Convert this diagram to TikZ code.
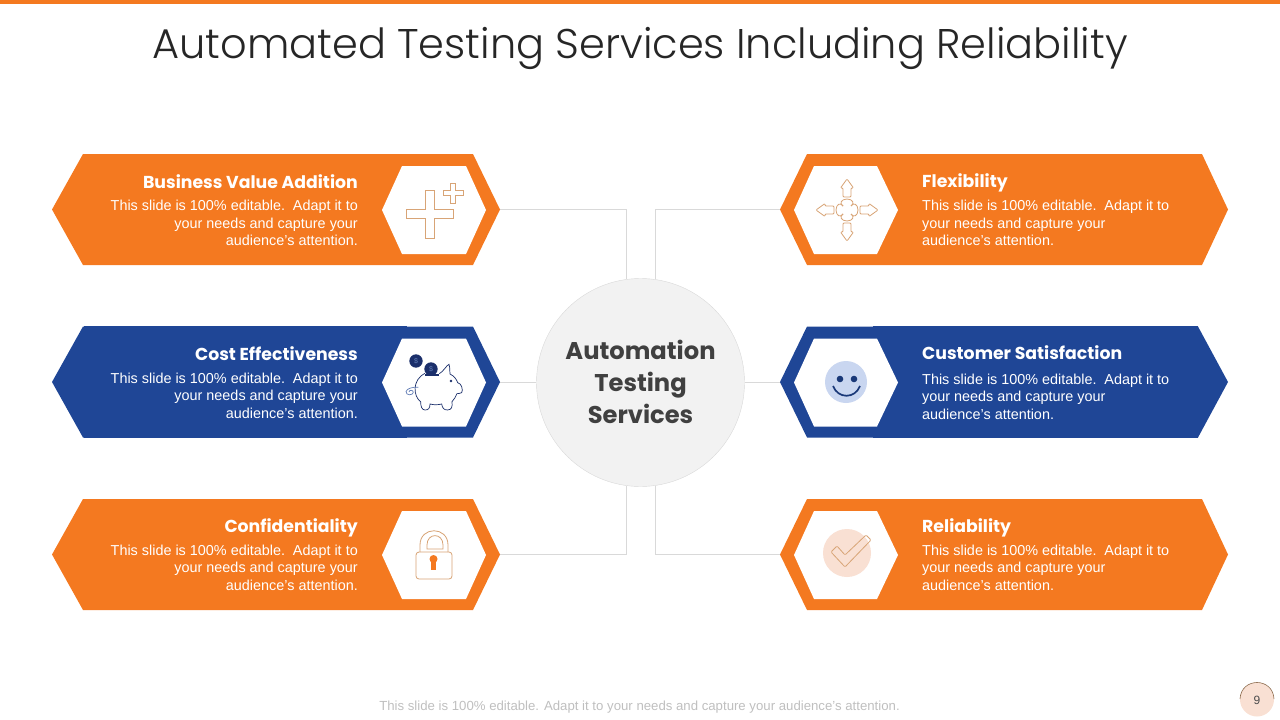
\documentclass[tikz,border=0pt]{standalone}
\usepackage{fontspec}
\setmainfont{Liberation Sans}
\newfontfamily\headfont{Poppins}
\newfontfamily\titlefont{Poppins Light}
\definecolor{barorange}{HTML}{F47920}
\definecolor{barblue}{HTML}{1F4696}
\definecolor{iconline}{HTML}{D8A476}
\definecolor{navycoin}{HTML}{1B2F6B}
\definecolor{smileface}{HTML}{C9D6F0}
\definecolor{peachdisc}{HTML}{F9E0D3}
\tikzset{
  headl/.style={anchor=base east,inner sep=0pt,text=white,font=\headfont\bfseries\fontsize{17.3}{20}\selectfont},
  headr/.style={anchor=base west,inner sep=0pt,text=white,font=\headfont\bfseries\fontsize{17.3}{20}\selectfont},
  bodyl/.style={anchor=east,inner sep=0pt,text=white,align=right,font=\fontsize{14.4}{17.6}\selectfont},
  bodyr/.style={anchor=west,inner sep=0pt,text=white,align=left,font=\fontsize{14.4}{17.6}\selectfont},
  linkline/.style={draw=black!15,line width=.8pt},
  iconpath/.style={draw=iconline,line width=.8pt},
}
\begin{document}
\begin{tikzpicture}[x=1pt,y=-1pt]
\def\lefthex{(52,209.5) -- (83,154) -- (473,154) -- (500,209.5) -- (473,265) -- (83,265) -- cycle}
\def\leftinner{(382,210) -- (402,166) -- (466,166) -- (486,210) -- (466,254) -- (402,254) -- cycle}
\def\righthex{(780,209.5) -- (807,154) -- (1202,154) -- (1228,209.5) -- (1202,265) -- (807,265) -- cycle}
\def\rightblue{(780,209.5) -- (807,154) -- (1198,154) -- (1228,209.5) -- (1198,265) -- (807,265) -- cycle}
\def\rightinner{(794,210) -- (814,166) -- (877,166) -- (898,210) -- (877,254) -- (814,254) -- cycle}
\def\slidetext{This slide is 100\% editable.\, Adapt it to\\your needs and capture your\\audience's attention.}
\useasboundingbox (0,0) rectangle (1280,720);
\fill[barorange] (0,0) rectangle (1280,4);
\node[anchor=base,inner sep=0pt,text=black!85,font=\titlefont\fontsize{41.5}{50}\selectfont] (title) at (640,58) {Automated Testing Services Including Reliability};

% hub and links
\node[circle,draw=black!15,fill=black!5,minimum size=208pt,inner sep=0pt,align=center,text=black!75,font=\headfont\bfseries\fontsize{24.2}{32}\selectfont] (hub) at (640.5,382.5) {Automation\\Testing\\Services\rule[-2pt]{0pt}{2pt}};
\coordinate (bvatip) at (499,209);
\coordinate (costtip) at (499,382.5);
\coordinate (conftip) at (499,554);
\coordinate (flextip) at (781,209);
\coordinate (custtip) at (781,382.5);
\coordinate (reltip) at (781,554);
\draw[linkline] (hub.98) |- (bvatip);
\draw[linkline] (hub.82) |- (flextip);
\draw[linkline] (hub.west) -- (costtip);
\draw[linkline] (hub.east) -- (custtip);
\draw[linkline] (hub.262) |- (conftip);
\draw[linkline] (hub.278) |- (reltip);

% left column
\fill[barorange] \lefthex;
\fill[white] \leftinner;
\begin{scope}[shift={(0,172.5)}]
\fill[barblue] \lefthex;
\fill[barblue] (84,153.5) rectangle (407,265.5);
\fill[white] \leftinner;
\end{scope}
\begin{scope}[shift={(0,345)}]
\fill[barorange] \lefthex;
\fill[white] \leftinner;
\end{scope}

% right column
\fill[barorange] \righthex;
\fill[white] \rightinner;
\begin{scope}[shift={(0,172.5)}]
\fill[barblue] \rightblue;
\fill[barblue] (873,153.5) rectangle (1198,265.5);
\fill[white] \rightinner;
\end{scope}
\begin{scope}[shift={(0,345)}]
\fill[barorange] \righthex;
\fill[white] \rightinner;
\end{scope}

% texts
\node[headl] (bvahead) at (358,188) {Business Value Addition};
\node[bodyl] (bvabody) at (358,223) {\slidetext};
\node[headl] (costhead) at (358,360) {Cost Effectiveness};
\node[bodyl] (costbody) at (358,395.5) {\slidetext};
\node[headl] (confhead) at (358,532) {Confidentiality};
\node[bodyl] (confbody) at (358,567.5) {\slidetext};
\node[headr] (flexhead) at (922,187) {Flexibility};
\node[bodyr] (flexbody) at (922,223) {\slidetext};
\node[headr] (custhead) at (922,359) {Customer Satisfaction};
\node[bodyr] (custbody) at (922,396.5) {\slidetext};
\node[headr] (relhead) at (922,532) {Reliability};
\node[bodyr] (relbody) at (922,567.5) {\slidetext};

% plus icon
\draw[iconpath] (425,190) -- (434,190) -- (434,209.5) -- (453,209.5) -- (453,218.5) -- (434,218.5) -- (434,238) -- (425,238) -- (425,218.5) -- (406,218.5) -- (406,209.5) -- (425,209.5) -- cycle;
\draw[iconpath] (450.5,183) -- (455.5,183) -- (455.5,190.5) -- (463,190.5) -- (463,195.5) -- (455.5,195.5) -- (455.5,203) -- (450.5,203) -- (450.5,195.5) -- (443,195.5) -- (443,190.5) -- (450.5,190.5) -- cycle;

% arrows icon
\foreach \ang in {0,90,180,270}{
\begin{scope}[shift={(847,210)},rotate=\ang]
\draw[iconpath] (4,-4) .. controls (6,-8) and (11,-6) .. (11,0) .. controls (11,6) and (6,8) .. (4,4);
\draw[iconpath,rounded corners=1pt] (13,-4) -- (22,-4) -- (22,-6.5) -- (31,0) -- (22,6.5) -- (22,4) -- (13,4) -- cycle;
\end{scope}
}

% piggy icon
\begin{scope}[shift={(380,330)},scale=1/3]
\fill[navycoin] (108,93) circle (20);
\fill[navycoin] (153,117) circle (20);
\node[inner sep=0pt,text=barblue!70,font=\fontsize{7}{7}\selectfont] (coinone) at (108,93) {\$};
\node[inner sep=0pt,text=barblue!70,font=\fontsize{7}{7}\selectfont] (cointwo) at (153,117) {\$};
\fill[navycoin] (135,133) rectangle (178,138);
\draw[navycoin,line width=.7pt] (178,131) .. controls (190,125) and (200,105) .. (207,103)
 .. controls (211,115) and (208,125) .. (210,132) .. controls (222,138) and (230,148) .. (233,158)
 .. controls (245,160) and (250,180) .. (245,188) .. controls (240,191) and (235,190) .. (231,191)
 .. controls (228,200) and (222,208) .. (216,215) .. controls (218,230) and (215,240) .. (202,240)
 .. controls (190,240) and (187,232) .. (185,222) .. controls (172,225) and (162,225) .. (150,222)
 .. controls (150,235) and (145,240) .. (135,240) .. controls (125,240) and (122,228) .. (122,215)
 .. controls (100,200) and (95,150) .. (135,130);
\fill[navycoin] (213,153) circle (4);
\draw[barblue!70,line width=.7pt] (115,172) .. controls (100,170) and (80,175) .. (78,185)
 .. controls (78,197) and (98,197) .. (100,187) .. controls (100,180) and (88,178) .. (87,186);
\end{scope}

% lock icon
\draw[iconpath,rounded corners=3pt] (416,552) rectangle (452,579);
\draw[iconpath] (420,552) -- (420,545) .. controls (420,526) and (448,526) .. (448,545) -- (448,552);
\draw[iconpath] (427,549) -- (427,545) .. controls (427,532.5) and (443,532.5) .. (443,545) -- (443,549) -- cycle;
\fill[barorange] (433.5,559) circle (4);
\fill[barorange] (431,560) rectangle (436,570);

% smiley icon
\fill[smileface] (846,382) circle (21);
\fill[barblue!80!black] (840,379) circle (3.3);
\fill[barblue!80!black] (854,379) circle (3.3);
\draw[barblue!80!black,line width=1.7pt] (833,386) .. controls (838,399) and (855,399) .. (860,386);

% check icon
\fill[peachdisc] (847,553) circle (24);
\draw[iconpath,rounded corners=1pt] (831,552) -- (837,546) -- (845,555) -- (866,535) -- (871,540) -- (845,567) -- cycle;

% footer
\node[inner sep=0pt,text=black!25,font=\fontsize{13.2}{15}\selectfont] (footer) at (639.5,707) {This slide is 100\% editable. Adapt it to your needs and capture your audience's attention.};
\fill[peachdisc] (1257,699.5) circle (17);
\draw[black!35!iconline,line width=.6pt] (1240,699) .. controls (1241,677) and (1273,677) .. (1274,699);
\node[inner sep=0pt,text=black!70,font=\fontsize{12}{14}\selectfont] (pagenum) at (1257,700) {9};
\end{tikzpicture}
\end{document}
